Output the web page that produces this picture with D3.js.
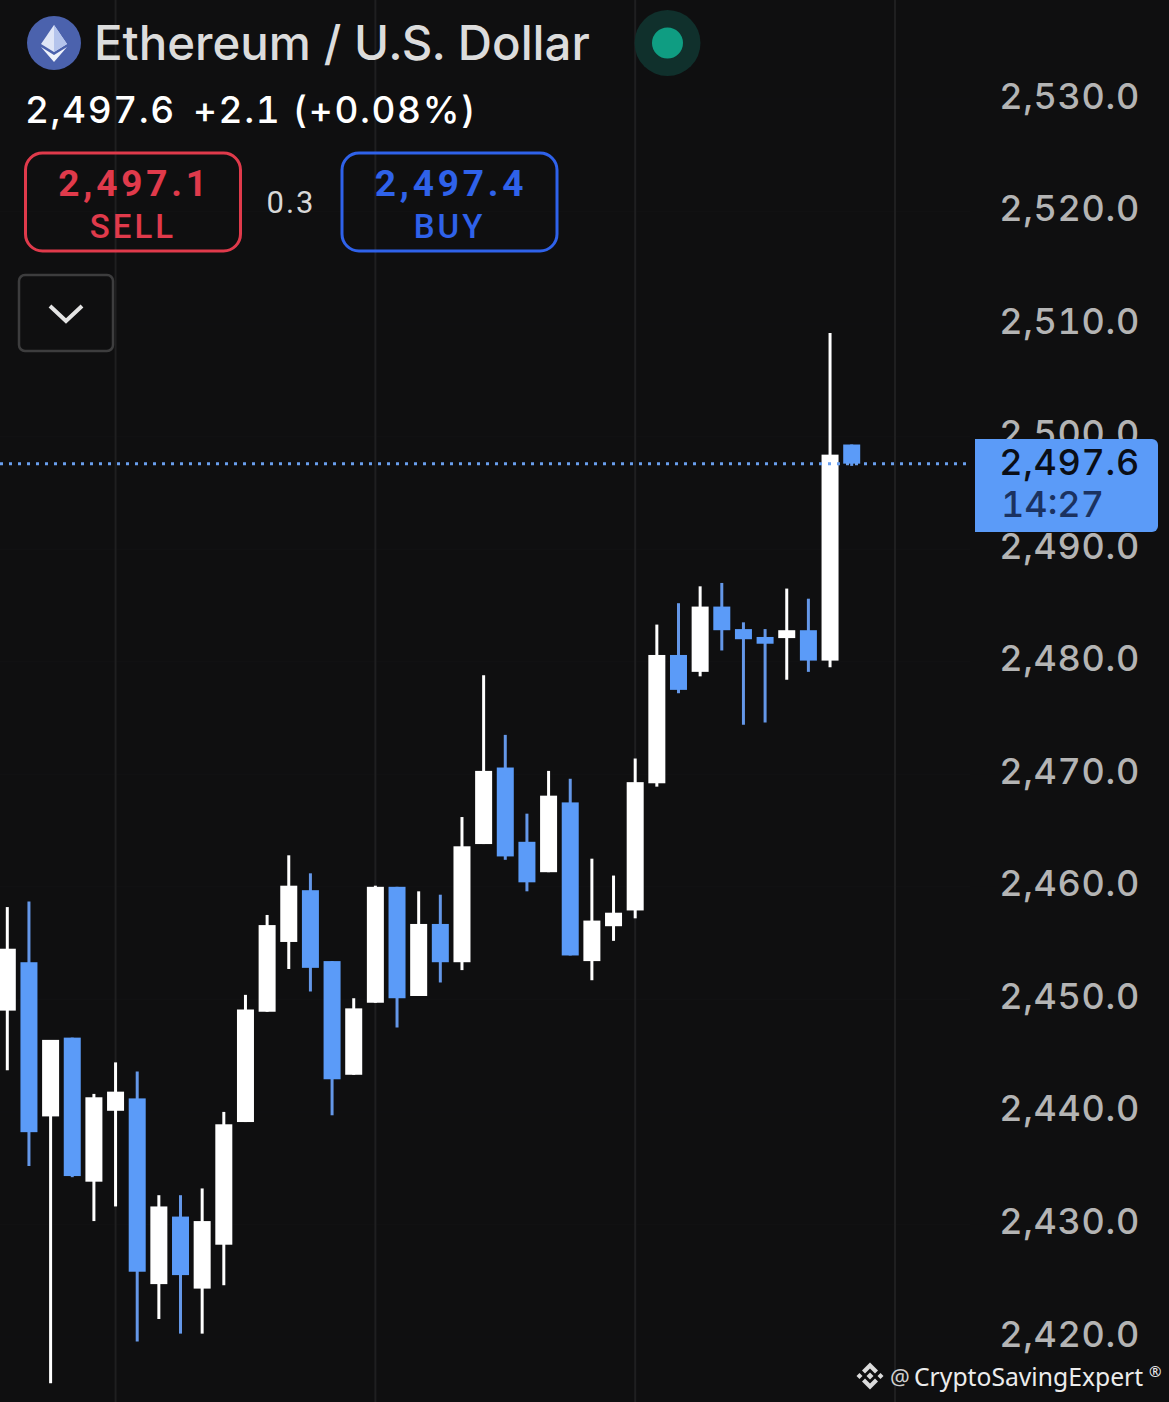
<!DOCTYPE html>
<html>
<head>
<meta charset="utf-8">
<title>Ethereum / U.S. Dollar</title>
<script src="https://cdn.jsdelivr.net/npm/d3@7"></script>
<style>
  html, body { margin: 0; padding: 0; background: #0f0f10; }
  svg { display: block; font-family: Inter, "Noto Sans", sans-serif; font-feature-settings: "tnum" 1; font-variant-numeric: tabular-nums; }
</style>
</head>
<body>
<div id="chart"></div>
<script>
// Candles, oldest first
const opens  = [2449.0, 2453.3, 2439.6, 2446.6, 2433.8, 2440.1, 2441.2, 2424.7, 2430.7, 2424.3,
                2428.2, 2439.1, 2448.9, 2455.1, 2459.7, 2453.4, 2443.3, 2449.7, 2460.0, 2450.3,
                2456.7, 2453.3, 2463.8, 2470.6, 2464.0, 2461.3, 2467.5, 2453.4, 2456.5, 2457.9,
                2469.2, 2480.6, 2479.1, 2484.9, 2482.9, 2482.2, 2482.1, 2482.8, 2480.1, 2499.3];
const highs  = [2458.2, 2458.7, 2446.4, 2446.6, 2441.6, 2444.4, 2443.6, 2432.6, 2432.6, 2433.2,
                2440.0, 2450.4, 2457.5, 2462.8, 2461.2, 2453.4, 2450.1, 2460.1, 2460.0, 2459.6,
                2459.3, 2466.2, 2478.8, 2473.5, 2466.5, 2470.3, 2469.6, 2462.5, 2461.0, 2471.4,
                2483.3, 2485.2, 2486.7, 2487.0, 2483.5, 2482.9, 2486.5, 2485.6, 2509.2, 2499.3];
const lows   = [2443.7, 2435.2, 2415.9, 2434.2, 2430.3, 2431.6, 2419.6, 2421.6, 2420.3, 2420.3,
                2424.6, 2439.1, 2448.9, 2452.7, 2450.7, 2439.7, 2443.3, 2449.7, 2447.5, 2450.3,
                2451.5, 2452.6, 2463.8, 2462.4, 2459.6, 2461.3, 2453.9, 2451.7, 2455.2, 2457.2,
                2468.9, 2477.2, 2478.7, 2481.0, 2474.4, 2474.6, 2478.4, 2479.1, 2479.5, 2497.4];
const closes = [2454.5, 2438.2, 2446.4, 2434.3, 2441.3, 2441.8, 2425.8, 2431.6, 2425.5, 2430.3,
                2438.9, 2449.1, 2456.6, 2460.1, 2452.8, 2442.9, 2449.2, 2460.0, 2450.1, 2456.7,
                2453.3, 2463.6, 2470.3, 2462.7, 2460.4, 2468.1, 2453.9, 2457.0, 2457.7, 2469.3,
                2480.6, 2477.5, 2484.9, 2482.8, 2482.0, 2481.6, 2482.8, 2480.1, 2498.4, 2497.6];

const priceTicks = [2530, 2520, 2510, 2500, 2490, 2480, 2470, 2460, 2450, 2440, 2430, 2420];
// candle index of each vertical grid line
const gridCandles = [5, 17, 29, 41];
const lastPrice = 2497.6;

const title = "Ethereum / U.S. Dollar";
const quote = "2,497.6";
const change = "+2.1 (+0.08%)";
const sellPrice = "2,497.1";
const buyPrice = "2,497.4";
const spread = "0.3";
const countdown = "14:27";

const width = 1169;
const height = 1402;
const upColor = "#ffffff";
const downColor = "#5b9bf8";
const downWick = "#6497e8";

const candles = opens.map((o, i) => ({ i, open: o, high: highs[i], low: lows[i], close: closes[i] }));

const x = d3.scaleLinear().domain([0, 39]).range([7.3, 851.7]);
const y = d3.scaleLinear().domain([2530, 2420]).range([99, 1337]);

const svg = d3.select("#chart").append("svg")
    .attr("width", width)
    .attr("height", height)
    .attr("viewBox", `0 0 ${width} ${height}`);

svg.append("rect").attr("width", width).attr("height", height).attr("fill", "#0f0f10");

// Grid
svg.append("g").selectAll("line")
    .data(priceTicks)
    .enter().append("line")
    .attr("x1", 0).attr("x2", 970)
    .attr("y1", d => y(d)).attr("y2", d => y(d))
    .attr("stroke", "#111112")
    .attr("stroke-width", 1.5);

svg.append("g").selectAll("line")
    .data(gridCandles)
    .enter().append("line")
    .attr("x1", d => x(d)).attr("x2", d => x(d))
    .attr("y1", 0).attr("y2", height)
    .attr("stroke", "#1f1f20")
    .attr("stroke-width", 2);

// Price axis
const axis = svg.append("g")
    .attr("transform", "translate(1140,0)")
    .call(d3.axisLeft(y).tickValues(priceTicks).tickFormat(d3.format(",.1f")).tickSize(0).tickPadding(0));
axis.select(".domain").remove();
axis.selectAll("text")
    .attr("dy", null)
    .attr("y", 9)
    .attr("fill", "#b4b4b4")
    .style("font-family", "Inter, sans-serif")
    .style("font-size", "36px")
    .style("font-weight", 500)
    .style("letter-spacing", "0.7px");

// Candles
const candle = svg.append("g").selectAll("g")
    .data(candles)
    .enter().append("g");

candle.append("line")
    .attr("x1", d => x(d.i)).attr("x2", d => x(d.i))
    .attr("y1", d => y(d.high)).attr("y2", d => y(d.low))
    .attr("stroke", d => d.close >= d.open ? upColor : downWick)
    .attr("stroke-width", 3);

candle.append("rect")
    .attr("x", d => x(d.i) - 8.5)
    .attr("width", 17)
    .attr("y", d => y(Math.max(d.open, d.close)))
    .attr("height", d => Math.abs(y(d.open) - y(d.close)))
    .attr("fill", d => d.close >= d.open ? upColor : downColor);

// Last price line and label
svg.append("line")
    .attr("x1", 0).attr("x2", 968)
    .attr("y1", y(lastPrice)).attr("y2", y(lastPrice))
    .attr("stroke", "#6a9fee")
    .attr("stroke-width", 3)
    .attr("stroke-dasharray", "3 6");

svg.append("path")
    .attr("d", "M975,439H1152a6,6 0 0 1 6,6V526a6,6 0 0 1 -6,6H975Z")
    .attr("fill", downColor);

svg.append("text").attr("x", 1140).attr("y", 475)
    .attr("text-anchor", "end").attr("fill", "#0a0e16")
    .style("font-size", "36px").style("font-weight", 500).style("letter-spacing", "0.7px")
    .text(quote);
svg.append("text").attr("x", 1001).attr("y", 517)
    .attr("fill", "#1b3260")
    .style("font-size", "36px").style("font-weight", 500).style("letter-spacing", "0px")
    .text(countdown);

// Header
const logo = svg.append("g");
logo.append("circle").attr("cx", 54).attr("cy", 43).attr("r", 27).attr("fill", "#4b62ad");
logo.append("path").attr("d", "M54,25L41,44L54,52L67,44Z").attr("fill", "#dfe6f7");
logo.append("path").attr("d", "M54,25L67,44L54,52Z").attr("fill", "#b4c4ec");
logo.append("path").attr("d", "M41,47L54,62L67,47L54,55Z").attr("fill", "#eef2fb");

svg.append("text").attr("x", 94).attr("y", 60)
    .attr("fill", "#dcdcdc")
    .style("font-size", "47.4px").style("font-weight", 500)
    .text(title);

svg.append("circle").attr("cx", 667.5).attr("cy", 43).attr("r", 33).attr("fill", "#10302c");
svg.append("circle").attr("cx", 667.5).attr("cy", 43).attr("r", 15.5).attr("fill", "#0f9d82");

svg.append("text").attr("x", 25).attr("y", 123)
    .attr("fill", "#ffffff")
    .style("font-size", "37px").style("font-weight", 500).style("letter-spacing", "1.6px")
    .text(quote);
svg.append("text").attr("x", 193).attr("y", 123)
    .attr("fill", "#ffffff")
    .style("font-size", "37px").style("font-weight", 500).style("letter-spacing", "1.6px")
    .text(change);

// Sell / buy buttons
function tradeButton(left, color, price, label) {
    const cx = left + 107.5;
    svg.append("rect")
        .attr("x", left).attr("y", 153)
        .attr("width", 215).attr("height", 98).attr("rx", 17)
        .attr("fill", "none").attr("stroke", color).attr("stroke-width", 3);
    svg.append("text").attr("x", cx + 1.5).attr("y", 196)
        .attr("text-anchor", "middle").attr("fill", color)
        .style("font-family", "Roboto, sans-serif")
        .style("font-size", "37px").style("font-weight", 700).style("letter-spacing", "3.8px")
        .text(price);
    svg.append("text").attr("x", cx).attr("y", 238)
        .attr("text-anchor", "middle").attr("fill", color)
        .style("font-family", "Roboto, sans-serif")
        .style("font-size", "33px").style("font-weight", 500).style("letter-spacing", "3px")
        .text(label);
}
tradeButton(25.5, "#e03a4b", sellPrice, "SELL");
tradeButton(342, "#2f62ea", buyPrice, "BUY");

svg.append("text").attr("x", 291).attr("y", 213)
    .attr("text-anchor", "middle").attr("fill", "#d8d8d8")
    .style("font-family", "Roboto, sans-serif")
    .style("font-size", "31px").style("letter-spacing", "2px")
    .text(spread);

// Collapse button
svg.append("rect")
    .attr("x", 19).attr("y", 275).attr("width", 94).attr("height", 76).attr("rx", 6)
    .attr("fill", "none").attr("stroke", "#3d3d3e").attr("stroke-width", 2.5);
svg.append("path")
    .attr("d", "M50,306L66,321L82,306")
    .attr("fill", "none").attr("stroke", "#e4e4e4").attr("stroke-width", 4);

// Watermark
const mark = svg.append("g").attr("transform", "translate(870,1376)").attr("fill", "#dcdcdc");
mark.append("path").attr("d", "M0,-13.5L8,-5.5L5,-2.5L0,-7.5L-5,-2.5L-8,-5.5Z");
mark.append("path").attr("d", "M0,13.5L8,5.5L5,2.5L0,7.5L-5,2.5L-8,5.5Z");
mark.append("path").attr("d", "M0,-3.5L3.5,0L0,3.5L-3.5,0Z");
mark.append("path").attr("d", "M-13.5,0L-10.5,-3L-7.5,0L-10.5,3Z");
mark.append("path").attr("d", "M13.5,0L10.5,-3L7.5,0L10.5,3Z");

svg.append("text").attr("x", 890).attr("y", 1385)
    .attr("fill", "#cfcfcf")
    .style("font-family", "'Noto Sans', sans-serif")
    .style("font-size", "22px")
    .text("@");
svg.append("text").attr("x", 914).attr("y", 1386)
    .attr("fill", "#ececec")
    .style("font-family", "'Noto Sans', sans-serif")
    .style("font-size", "24.7px")
    .text("CryptoSavingExpert");
svg.append("text").attr("x", 1149).attr("y", 1377)
    .attr("fill", "#ececec")
    .style("font-family", "'Noto Sans', sans-serif")
    .style("font-size", "15px")
    .text("®");
</script>
</body>
</html>
